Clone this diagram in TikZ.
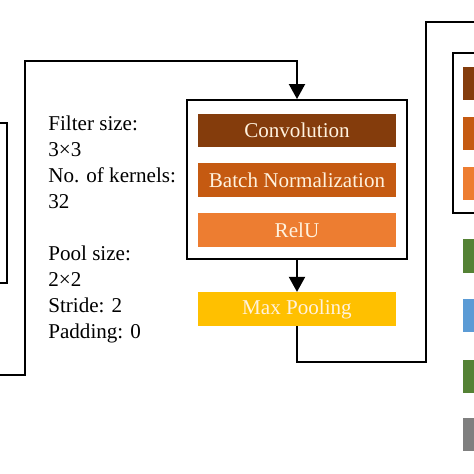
\documentclass[tikz,border=0pt]{standalone}
\usepackage{fontspec}
\setmainfont{Liberation Serif}
\definecolor{convbrown}{RGB}{132, 60, 12}
\definecolor{normbrown}{RGB}{197, 90, 17}
\definecolor{reluorange}{RGB}{237, 125, 49}
\definecolor{poolgold}{RGB}{255, 192, 0}
\definecolor{densegreen}{RGB}{84, 130, 53}
\definecolor{dropblue}{RGB}{91, 155, 213}
\definecolor{outgray}{RGB}{127, 127, 127}
\definecolor{bartext}{RGB}{255, 242, 222}
\usetikzlibrary{arrows.meta, positioning}

\begin{document}
\begin{tikzpicture}[x=0.02cm, y=-0.02cm,
  layer/.style={minimum width=3.98cm, minimum height=0.67cm, inner sep=0pt, text=bartext, font=\fontsize{12}{14}\selectfont},
  frame/.style={draw=black, line width=1.1pt, inner sep=0pt},
  link/.style={draw=black, line width=1.1pt},
  tip/.style={-{Triangle[width=0.32cm, length=0.3cm]}},
  note/.style={anchor=north west, inner sep=0pt, align=left, font=\fontsize{12}{14.74}\selectfont}
]
  \useasboundingbox (0,0) rectangle (474,474);

  % previous and next blocks, cut by the page edges
  \node[frame, minimum width=1.34cm, minimum height=3.2cm] (prevblock) at (-26.5, 203) {};
  \node[frame, minimum width=3.4cm,  minimum height=3.2cm] (nextblock) at (538, 133) {};

  % convolution block
  \node[frame, minimum width=4.4cm, minimum height=3.18cm] (block) at (297, 179.5) {};
  \node[layer, fill=convbrown]  (conv) at (297, 130.5) {Convolution};
  \node[layer, fill=normbrown]  (norm) at (297, 180)   {Batch Normalization};
  \node[layer, fill=reluorange] (relu) at (297, 230)   {RelU};
  \node[layer, fill=poolgold]   (pool) at (297, 309)   {Max Pooling};

  % layers of the next block
  \node[layer, fill=convbrown]  (nconv) at (562, 83.5)  {};
  \node[layer, fill=normbrown]  (nnorm) at (562, 133.5) {};
  \node[layer, fill=reluorange] (nrelu) at (562, 183.5) {};
  \node[layer, fill=densegreen] (dense) at (562, 256)   {};
  \node[layer, fill=dropblue]   (drop)  at (562, 315.5) {};
  \node[layer, fill=densegreen] (fc)    at (562, 376.5) {};
  \node[layer, fill=outgray]    (out)   at (562, 434.5) {};

  % parameters
  \node[note] (filternote) at (48, 116) {Filter size:\\3×3\\No. of kernels:\\32};
  \node[note] (poolnote)   at (48, 246) {Pool size:\\2×2\\Stride: 2\\Padding: 0};

  % connectors
  \coordinate (inL)   at (-5, 375);
  \coordinate (turnA) at (25, 61);
  \coordinate (turnB) at (426, 362);
  \coordinate (outR)  at (480, 22);
  \draw[link, tip] (inL) -| (turnA) -| (block.north);
  \draw[link, tip] (block.south) -- (pool.north);
  \draw[link] (pool.south) |- (turnB) |- (outR);
\end{tikzpicture}
\end{document}
